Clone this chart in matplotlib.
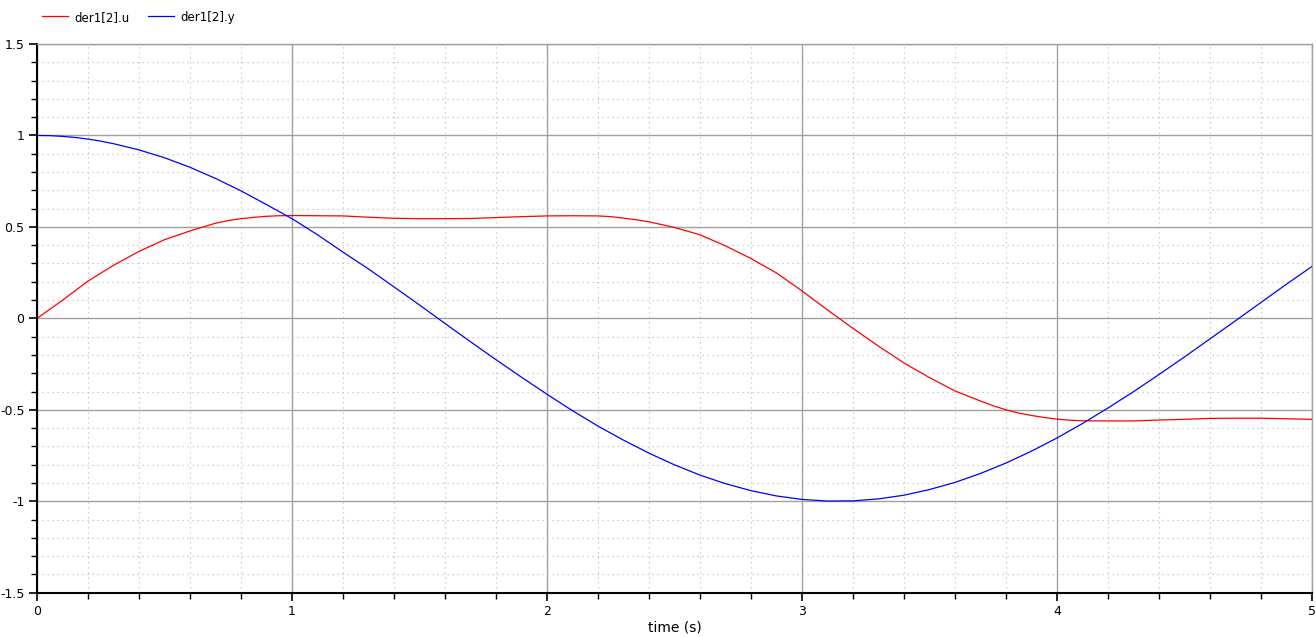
import matplotlib
matplotlib.use("Agg")
import matplotlib.pyplot as plt
from matplotlib.ticker import MultipleLocator

# ---- data ----
time_u = [0.0, 0.1, 0.2, 0.3, 0.4, 0.5, 0.6, 0.7, 0.75, 0.8, 0.85, 0.9, 0.95,
          1.0, 1.1, 1.2, 1.3, 1.4, 1.5, 1.6, 1.7, 1.8, 1.9,
          2.0, 2.1, 2.2, 2.25, 2.3, 2.35, 2.4, 2.5, 2.6, 2.7, 2.8, 2.9,
          3.0, 3.1, 3.2, 3.3, 3.4, 3.5, 3.6, 3.7, 3.75, 3.8, 3.85, 3.9, 3.95,
          4.0, 4.05, 4.1, 4.2, 4.3, 4.4, 4.5, 4.6, 4.7, 4.8, 4.9, 5.0]

der_u = [0.000, 0.099, 0.204, 0.290, 0.366, 0.430, 0.478, 0.520, 0.535, 0.545, 0.552, 0.558, 0.561,
         0.562, 0.561, 0.560, 0.553, 0.547, 0.545, 0.545, 0.546, 0.551, 0.556,
         0.560, 0.561, 0.560, 0.556, 0.548, 0.539, 0.528, 0.497, 0.457, 0.396, 0.327, 0.248,
         0.150, 0.046, -0.055, -0.152, -0.244, -0.324, -0.397, -0.452, -0.478, -0.500, -0.518, -0.531, -0.542,
         -0.551, -0.557, -0.560, -0.561, -0.561, -0.556, -0.552, -0.547, -0.546, -0.546, -0.549, -0.552]

time_y = [0.0, 0.05, 0.1, 0.15, 0.2, 0.25, 0.3, 0.4, 0.5, 0.6, 0.7, 0.8, 0.9,
          1.0, 1.1, 1.2, 1.3, 1.4, 1.5, 1.6, 1.7, 1.8, 1.9,
          2.0, 2.1, 2.2, 2.3, 2.4, 2.5, 2.6, 2.7, 2.8, 2.9,
          3.0, 3.1, 3.2, 3.3, 3.4, 3.5, 3.6, 3.7, 3.8, 3.9,
          4.0, 4.1, 4.2, 4.3, 4.4, 4.5, 4.6, 4.7, 4.8, 4.9, 5.0]

der_y = [1.000, 0.999, 0.995, 0.989, 0.980, 0.969, 0.955, 0.921, 0.878, 0.826, 0.765, 0.697, 0.622,
         0.545, 0.457, 0.362, 0.270, 0.172, 0.073, -0.028, -0.128, -0.226, -0.322,
         -0.415, -0.505, -0.589, -0.666, -0.737, -0.801, -0.857, -0.904, -0.942, -0.971,
         -0.990, -0.999, -0.998, -0.987, -0.967, -0.936, -0.897, -0.848, -0.791, -0.726,
         -0.654, -0.575, -0.490, -0.401, -0.307, -0.211, -0.112, -0.013, 0.087, 0.187, 0.284]

series_names = ["der1[2].u", "der1[2].y"]
series_colors = ["#ff0000", "#0000ff"]
x_ticks = [0, 1, 2, 3, 4, 5]
x_labels = ["0", "1", "2", "3", "4", "5"]
y_ticks = [-1.5, -1, -0.5, 0, 0.5, 1, 1.5]
y_labels = ["-1.5", "-1", "-0.5", "0", "0.5", "1", "1.5"]

plt.rcParams['font.family'] = ['DejaVu Sans']

fig = plt.figure(figsize=(13.16, 6.37), dpi=100)
ax = fig.add_axes([37 / 1316, 1 - 592.7 / 637, (1312 - 37) / 1316, (592.7 - 44) / 637])

lines = []
for tt, vals, name, col in zip([time_u, time_y], [der_u, der_y], series_names, series_colors):
    ln, = ax.plot(tt, vals, color=col, lw=0.9, label=name)
    lines.append(ln)

ax.set_xlim(0, 5)
ax.set_ylim(-1.5, 1.5)
ax.set_xticks(x_ticks)
ax.set_xticklabels(x_labels)
ax.set_yticks(y_ticks)
ax.set_yticklabels(y_labels)
ax.xaxis.set_minor_locator(MultipleLocator(0.2))
ax.yaxis.set_minor_locator(MultipleLocator(0.1))

ax.grid(which='major', color='#a0a0a0', lw=1.0, ls='-')
ax.grid(which='minor', color='#c0c0c0', lw=0.9, ls=(0, (1, 3)))
ax.set_axisbelow(True)

for s in ['top', 'right']:
    ax.spines[s].set_color('#a0a0a0')
    ax.spines[s].set_linewidth(1.0)
for s in ['left', 'bottom']:
    ax.spines[s].set_color('black')
    ax.spines[s].set_linewidth(1.5)

ax.tick_params(which='major', direction='out', length=6, width=1.2, color='black',
               labelsize=9, pad=3)
ax.tick_params(which='minor', direction='out', length=4, width=1.0, color='black')
ax.tick_params(axis='x', which='major', pad=3)

ax.set_xlabel("time (s)", fontsize=10, labelpad=2)

fig.legend(handles=lines, labels=series_names, loc='upper left',
           bbox_to_anchor=(0.024, 1.0), ncol=2, frameon=False, fontsize=8.5,
           handlelength=2.2, handletextpad=0.5, columnspacing=1.6)

fig.savefig("out.png", dpi=100, facecolor='white')
